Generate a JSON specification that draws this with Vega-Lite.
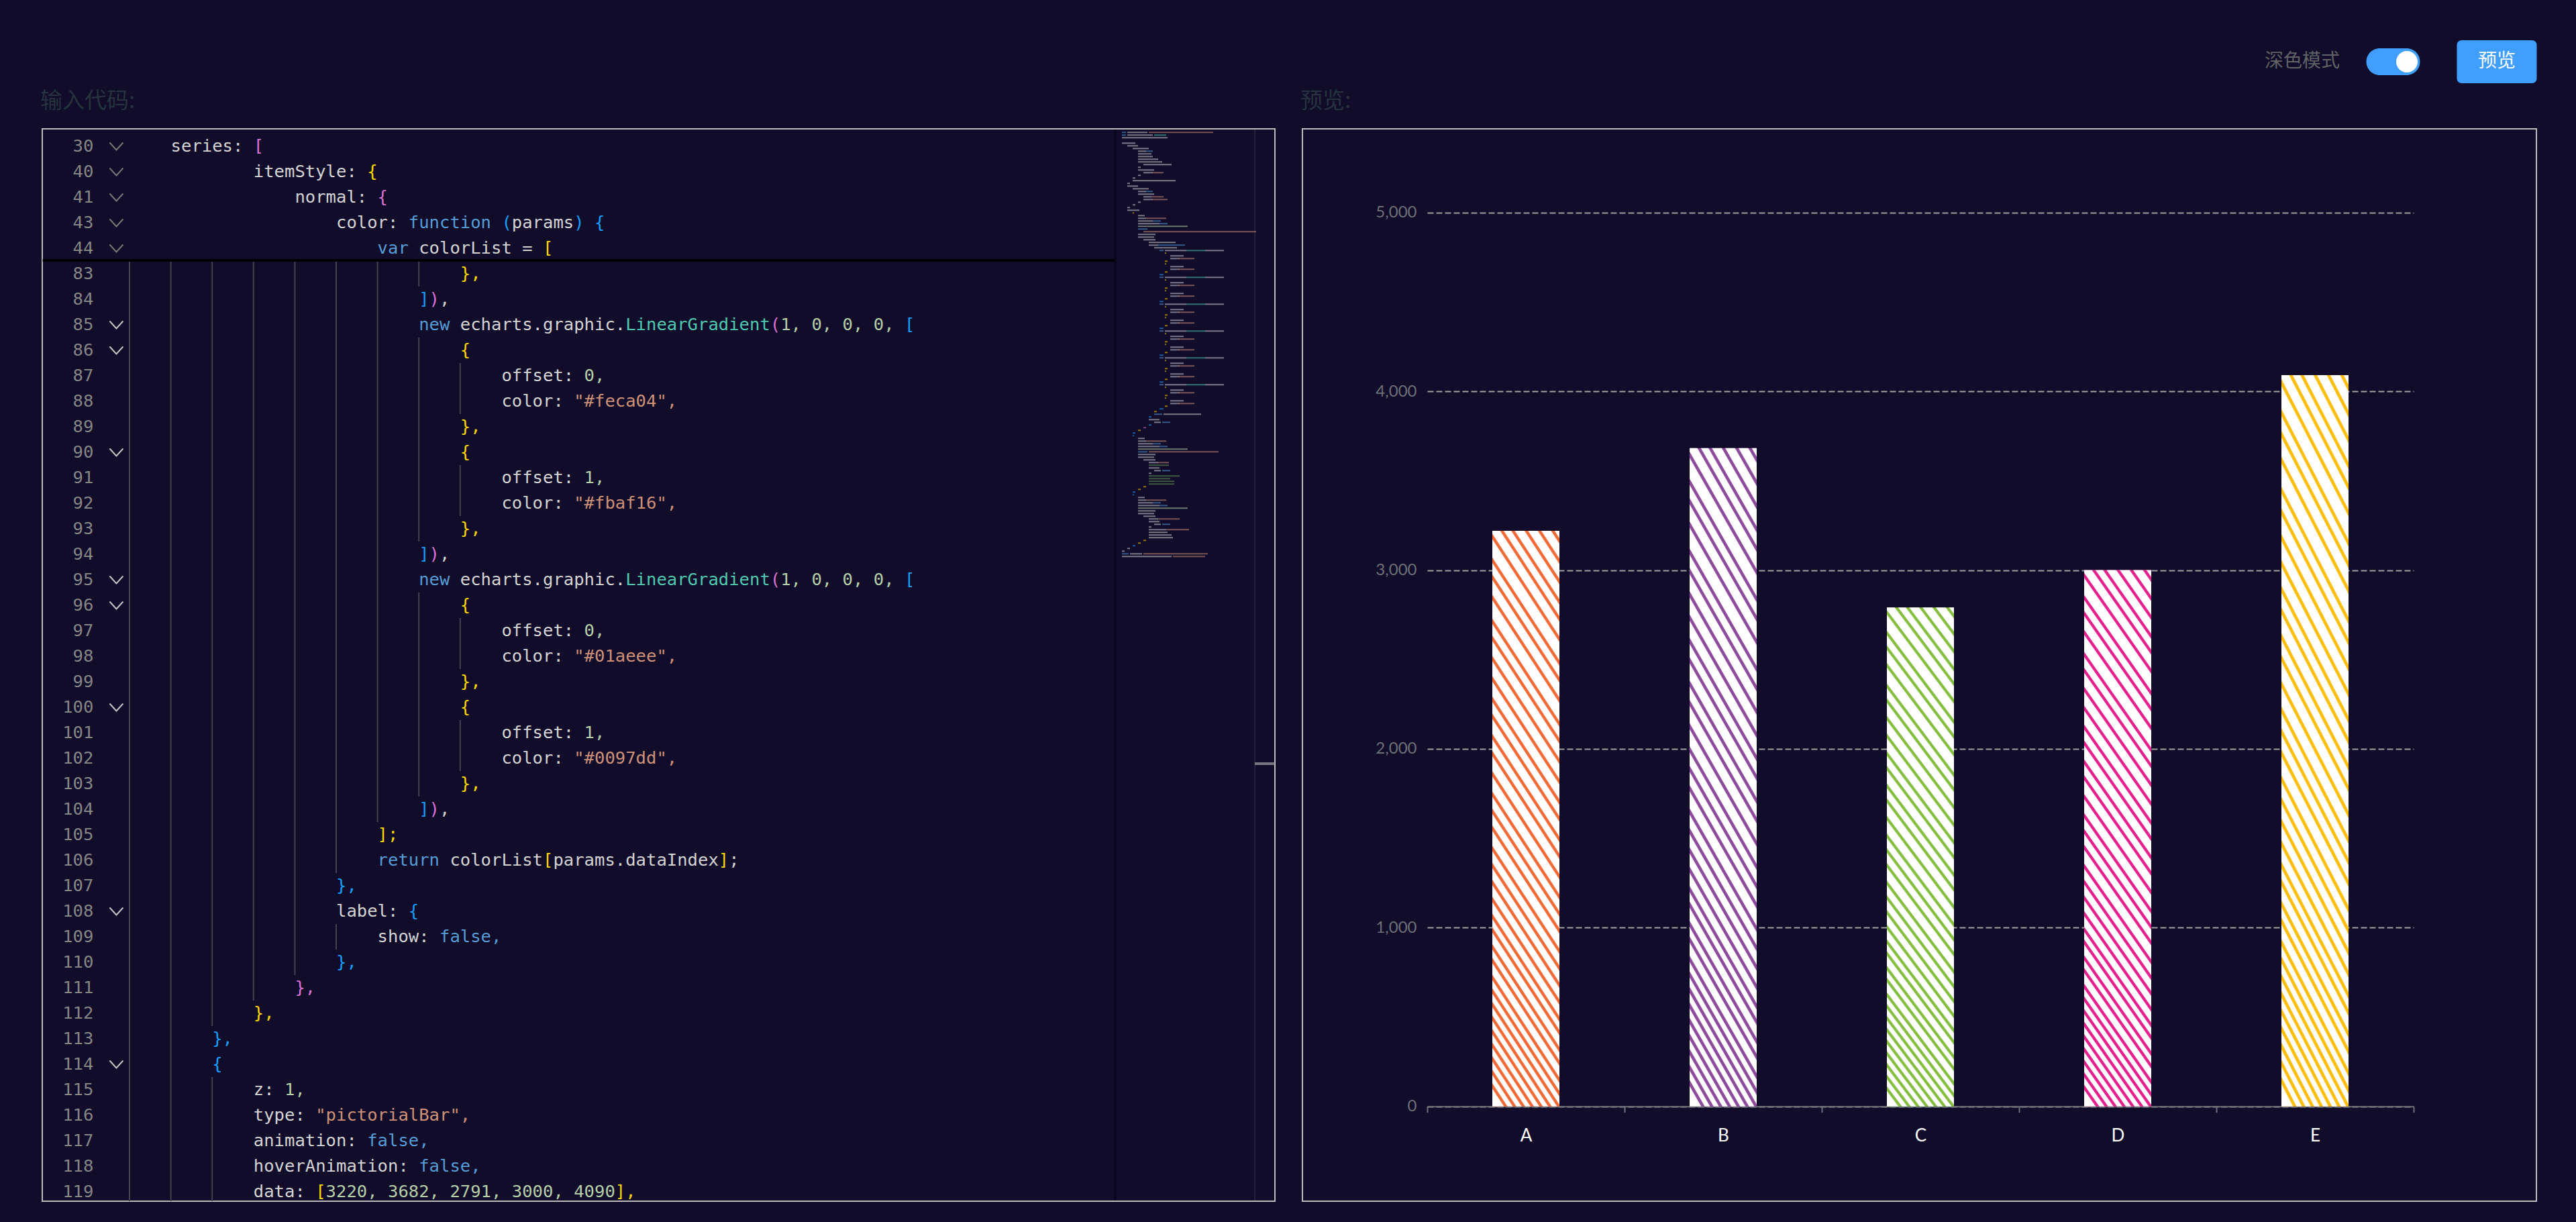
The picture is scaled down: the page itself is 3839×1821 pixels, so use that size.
{"$schema":"https://vega.github.io/schema/vega-lite/v6.json","background":"#100c2a","padding":{"left":59,"top":60,"right":62,"bottom":29},"config":{"view":{"stroke":null}},
"datasets":{
"bars":[{"cat":"A","value":3220},{"cat":"B","value":3682},{"cat":"C","value":2791},{"cat":"D","value":3000},{"cat":"E","value":4090}],
"widgets":[{"w":"mode","label":"深色模式"},{"w":"toggle","label":""},{"w":"preview","label":"预览"}],
"lines":[{"line":30,"fold":true},{"line":40,"fold":true},{"line":41,"fold":true},{"line":43,"fold":true},{"line":44,"fold":true},{"line":83},{"line":84},{"line":85,"fold":true},{"line":86,"fold":true},{"line":87},{"line":88},{"line":89},{"line":90,"fold":true},{"line":91},{"line":92},{"line":93},{"line":94},{"line":95,"fold":true},{"line":96,"fold":true},{"line":97},{"line":98},{"line":99},{"line":100,"fold":true},{"line":101},{"line":102},{"line":103},{"line":104},{"line":105},{"line":106},{"line":107},{"line":108,"fold":true},{"line":109},{"line":110},{"line":111},{"line":112},{"line":113},{"line":114,"fold":true},{"line":115},{"line":116},{"line":117},{"line":118},{"line":119}],
"guides":[{"col":0,"line":83,"to":119},{"col":4,"line":83,"to":119},{"col":8,"line":83,"to":112},{"col":8,"line":115,"to":119},{"col":12,"line":83,"to":111},{"col":16,"line":83,"to":110},{"col":20,"line":83,"to":106},{"col":20,"line":109,"to":109},{"col":24,"line":83,"to":104},{"col":28,"line":83,"to":83},{"col":28,"line":86,"to":93},{"col":28,"line":96,"to":103},{"col":32,"line":87,"to":88},{"col":32,"line":91,"to":92},{"col":32,"line":97,"to":98},{"col":32,"line":101,"to":102}],
"code":[
{"line":30,"col":4,"t":"series:","k":"p"},{"line":30,"col":12,"t":"[","k":"m"},
{"line":40,"col":12,"t":"itemStyle:","k":"p"},{"line":40,"col":23,"t":"{","k":"y"},
{"line":41,"col":16,"t":"normal:","k":"p"},{"line":41,"col":24,"t":"{","k":"m"},
{"line":43,"col":20,"t":"color:","k":"p"},{"line":43,"col":27,"t":"function","k":"k"},{"line":43,"col":36,"t":"(","k":"b"},{"line":43,"col":37,"t":"params","k":"p"},{"line":43,"col":43,"t":")","k":"b"},{"line":43,"col":45,"t":"{","k":"b"},
{"line":44,"col":24,"t":"var","k":"k"},{"line":44,"col":28,"t":"colorList =","k":"p"},{"line":44,"col":40,"t":"[","k":"y"},
{"line":83,"col":32,"t":"},","k":"y"},
{"line":84,"col":28,"t":"]","k":"b"},{"line":84,"col":29,"t":")","k":"m"},{"line":84,"col":30,"t":",","k":"p"},
{"line":85,"col":28,"t":"new","k":"k"},{"line":85,"col":32,"t":"echarts.graphic.","k":"p"},{"line":85,"col":48,"t":"LinearGradient","k":"t"},{"line":85,"col":62,"t":"(","k":"m"},{"line":85,"col":63,"t":"1, 0, 0, 0,","k":"n"},{"line":85,"col":75,"t":"[","k":"b"},
{"line":86,"col":32,"t":"{","k":"y"},{"line":87,"col":36,"t":"offset:","k":"p"},{"line":87,"col":44,"t":"0,","k":"n"},{"line":88,"col":36,"t":"color:","k":"p"},{"line":88,"col":43,"t":"\"#feca04\",","k":"s"},{"line":89,"col":32,"t":"},","k":"y"},
{"line":90,"col":32,"t":"{","k":"y"},{"line":91,"col":36,"t":"offset:","k":"p"},{"line":91,"col":44,"t":"1,","k":"n"},{"line":92,"col":36,"t":"color:","k":"p"},{"line":92,"col":43,"t":"\"#fbaf16\",","k":"s"},{"line":93,"col":32,"t":"},","k":"y"},
{"line":94,"col":28,"t":"]","k":"b"},{"line":94,"col":29,"t":")","k":"m"},{"line":94,"col":30,"t":",","k":"p"},
{"line":95,"col":28,"t":"new","k":"k"},{"line":95,"col":32,"t":"echarts.graphic.","k":"p"},{"line":95,"col":48,"t":"LinearGradient","k":"t"},{"line":95,"col":62,"t":"(","k":"m"},{"line":95,"col":63,"t":"1, 0, 0, 0,","k":"n"},{"line":95,"col":75,"t":"[","k":"b"},
{"line":96,"col":32,"t":"{","k":"y"},{"line":97,"col":36,"t":"offset:","k":"p"},{"line":97,"col":44,"t":"0,","k":"n"},{"line":98,"col":36,"t":"color:","k":"p"},{"line":98,"col":43,"t":"\"#01aeee\",","k":"s"},{"line":99,"col":32,"t":"},","k":"y"},
{"line":100,"col":32,"t":"{","k":"y"},{"line":101,"col":36,"t":"offset:","k":"p"},{"line":101,"col":44,"t":"1,","k":"n"},{"line":102,"col":36,"t":"color:","k":"p"},{"line":102,"col":43,"t":"\"#0097dd\",","k":"s"},{"line":103,"col":32,"t":"},","k":"y"},
{"line":104,"col":28,"t":"]","k":"b"},{"line":104,"col":29,"t":")","k":"m"},{"line":104,"col":30,"t":",","k":"p"},
{"line":105,"col":24,"t":"];","k":"y"},
{"line":106,"col":24,"t":"return","k":"k"},{"line":106,"col":31,"t":"colorList","k":"p"},{"line":106,"col":40,"t":"[","k":"y"},{"line":106,"col":41,"t":"params.dataIndex","k":"p"},{"line":106,"col":57,"t":"]","k":"y"},{"line":106,"col":58,"t":";","k":"p"},
{"line":107,"col":20,"t":"},","k":"b"},{"line":108,"col":20,"t":"label:","k":"p"},{"line":108,"col":27,"t":"{","k":"b"},{"line":109,"col":24,"t":"show:","k":"p"},{"line":109,"col":30,"t":"false,","k":"k"},{"line":110,"col":20,"t":"},","k":"b"},{"line":111,"col":16,"t":"},","k":"m"},{"line":112,"col":12,"t":"},","k":"y"},{"line":113,"col":8,"t":"},","k":"b"},{"line":114,"col":8,"t":"{","k":"b"},
{"line":115,"col":12,"t":"z:","k":"p"},{"line":115,"col":15,"t":"1,","k":"n"},{"line":116,"col":12,"t":"type:","k":"p"},{"line":116,"col":18,"t":"\"pictorialBar\",","k":"s"},{"line":117,"col":12,"t":"animation:","k":"p"},{"line":117,"col":23,"t":"false,","k":"k"},{"line":118,"col":12,"t":"hoverAnimation:","k":"p"},{"line":118,"col":28,"t":"false,","k":"k"},{"line":119,"col":12,"t":"data:","k":"p"},{"line":119,"col":18,"t":"[","k":"y"},{"line":119,"col":19,"t":"3220, 3682, 2791, 3000, 4090","k":"n"},{"line":119,"col":47,"t":"],","k":"y"}
],
"mini":[
{"m":1,"a":0,"b":3,"k":"k"},{"m":1,"a":4,"b":19,"k":"p"},{"m":1,"a":20,"b":68,"k":"s"},{"m":2,"a":0,"b":3,"k":"k"},{"m":2,"a":4,"b":23,"k":"p"},{"m":2,"a":24,"b":33,"k":"t"},{"m":3,"a":0,"b":34,"k":"p"},{"m":5,"a":0,"b":10,"k":"p"},{"m":6,"a":4,"b":12,"k":"p"},{"m":7,"a":8,"b":20,"k":"p"},{"m":8,"a":12,"b":18,"k":"p"},{"m":8,"a":18,"b":23,"k":"k"},{"m":9,"a":12,"b":22,"k":"p"},{"m":10,"a":12,"b":23,"k":"p"},{"m":11,"a":12,"b":27,"k":"p"},{"m":12,"a":12,"b":30,"k":"p"},{"m":13,"a":16,"b":37,"k":"p"},{"m":14,"a":12,"b":14,"k":"p"},{"m":15,"a":12,"b":24,"k":"p"},{"m":16,"a":16,"b":23,"k":"p"},{"m":16,"a":23,"b":31,"k":"s"},{"m":17,"a":12,"b":14,"k":"p"},{"m":18,"a":8,"b":10,"k":"p"},{"m":19,"a":8,"b":40,"k":"p"},{"m":20,"a":4,"b":6,"k":"p"},{"m":21,"a":4,"b":12,"k":"p"},{"m":22,"a":8,"b":20,"k":"p"},{"m":23,"a":12,"b":18,"k":"p"},{"m":23,"a":18,"b":23,"k":"k"},{"m":24,"a":12,"b":24,"k":"p"},{"m":25,"a":16,"b":22,"k":"p"},{"m":25,"a":22,"b":31,"k":"s"},{"m":26,"a":16,"b":23,"k":"p"},{"m":26,"a":23,"b":34,"k":"s"},{"m":27,"a":12,"b":14,"k":"p"},{"m":28,"a":8,"b":10,"k":"p"},{"m":29,"a":4,"b":6,"k":"p"},{"m":30,"a":4,"b":13,"k":"p"},{"m":31,"a":8,"b":9,"k":"y"},{"m":32,"a":12,"b":17,"k":"p"},{"m":33,"a":12,"b":18,"k":"p"},{"m":33,"a":18,"b":33,"k":"s"},{"m":34,"a":12,"b":23,"k":"p"},{"m":34,"a":23,"b":29,"k":"k"},{"m":35,"a":12,"b":28,"k":"p"},{"m":35,"a":28,"b":34,"k":"k"},{"m":36,"a":12,"b":49,"k":"n"},{"m":37,"a":12,"b":19,"k":"k"},{"m":38,"a":16,"b":100,"k":"s"},{"m":39,"a":12,"b":25,"k":"p"},{"m":40,"a":12,"b":24,"k":"p"},{"m":41,"a":16,"b":25,"k":"p"},{"m":42,"a":20,"b":40,"k":"p"},{"m":43,"a":20,"b":27,"k":"p"},{"m":43,"a":27,"b":47,"k":"k"},{"m":44,"a":24,"b":41,"k":"p"},
{"m":45,"a":28,"b":31,"k":"k"},{"m":45,"a":32,"b":48,"k":"p"},{"m":45,"a":48,"b":62,"k":"t"},{"m":45,"a":62,"b":76,"k":"p"},{"m":46,"a":32,"b":33,"k":"y"},{"m":47,"a":36,"b":46,"k":"p"},{"m":48,"a":36,"b":43,"k":"p"},{"m":48,"a":43,"b":54,"k":"s"},{"m":49,"a":32,"b":34,"k":"y"},{"m":50,"a":32,"b":33,"k":"y"},{"m":51,"a":36,"b":46,"k":"p"},{"m":52,"a":36,"b":43,"k":"p"},{"m":52,"a":43,"b":54,"k":"s"},{"m":53,"a":32,"b":34,"k":"y"},{"m":54,"a":28,"b":31,"k":"b"},
{"m":55,"a":28,"b":31,"k":"k"},{"m":55,"a":32,"b":48,"k":"p"},{"m":55,"a":48,"b":62,"k":"t"},{"m":55,"a":62,"b":76,"k":"p"},{"m":56,"a":32,"b":33,"k":"y"},{"m":57,"a":36,"b":46,"k":"p"},{"m":58,"a":36,"b":43,"k":"p"},{"m":58,"a":43,"b":54,"k":"s"},{"m":59,"a":32,"b":34,"k":"y"},{"m":60,"a":32,"b":33,"k":"y"},{"m":61,"a":36,"b":46,"k":"p"},{"m":62,"a":36,"b":43,"k":"p"},{"m":62,"a":43,"b":54,"k":"s"},{"m":63,"a":32,"b":34,"k":"y"},{"m":64,"a":28,"b":31,"k":"b"},
{"m":65,"a":28,"b":31,"k":"k"},{"m":65,"a":32,"b":48,"k":"p"},{"m":65,"a":48,"b":62,"k":"t"},{"m":65,"a":62,"b":76,"k":"p"},{"m":66,"a":32,"b":33,"k":"y"},{"m":67,"a":36,"b":46,"k":"p"},{"m":68,"a":36,"b":43,"k":"p"},{"m":68,"a":43,"b":54,"k":"s"},{"m":69,"a":32,"b":34,"k":"y"},{"m":70,"a":32,"b":33,"k":"y"},{"m":71,"a":36,"b":46,"k":"p"},{"m":72,"a":36,"b":43,"k":"p"},{"m":72,"a":43,"b":54,"k":"s"},{"m":73,"a":32,"b":34,"k":"y"},{"m":74,"a":28,"b":31,"k":"b"},
{"m":75,"a":28,"b":31,"k":"k"},{"m":75,"a":32,"b":48,"k":"p"},{"m":75,"a":48,"b":62,"k":"t"},{"m":75,"a":62,"b":76,"k":"p"},{"m":76,"a":32,"b":33,"k":"y"},{"m":77,"a":36,"b":46,"k":"p"},{"m":78,"a":36,"b":43,"k":"p"},{"m":78,"a":43,"b":54,"k":"s"},{"m":79,"a":32,"b":34,"k":"y"},{"m":80,"a":32,"b":33,"k":"y"},{"m":81,"a":36,"b":46,"k":"p"},{"m":82,"a":36,"b":43,"k":"p"},{"m":82,"a":43,"b":54,"k":"s"},{"m":83,"a":32,"b":34,"k":"y"},{"m":84,"a":28,"b":31,"k":"b"},
{"m":85,"a":28,"b":31,"k":"k"},{"m":85,"a":32,"b":48,"k":"p"},{"m":85,"a":48,"b":62,"k":"t"},{"m":85,"a":62,"b":76,"k":"p"},{"m":86,"a":32,"b":33,"k":"y"},{"m":87,"a":36,"b":46,"k":"p"},{"m":88,"a":36,"b":43,"k":"p"},{"m":88,"a":43,"b":54,"k":"s"},{"m":89,"a":32,"b":34,"k":"y"},{"m":90,"a":32,"b":33,"k":"y"},{"m":91,"a":36,"b":46,"k":"p"},{"m":92,"a":36,"b":43,"k":"p"},{"m":92,"a":43,"b":54,"k":"s"},{"m":93,"a":32,"b":34,"k":"y"},{"m":94,"a":28,"b":31,"k":"b"},
{"m":95,"a":28,"b":31,"k":"k"},{"m":95,"a":32,"b":48,"k":"p"},{"m":95,"a":48,"b":62,"k":"t"},{"m":95,"a":62,"b":76,"k":"p"},{"m":96,"a":32,"b":33,"k":"y"},{"m":97,"a":36,"b":46,"k":"p"},{"m":98,"a":36,"b":43,"k":"p"},{"m":98,"a":43,"b":54,"k":"s"},{"m":99,"a":32,"b":34,"k":"y"},{"m":100,"a":32,"b":33,"k":"y"},{"m":101,"a":36,"b":46,"k":"p"},{"m":102,"a":36,"b":43,"k":"p"},{"m":102,"a":43,"b":54,"k":"s"},{"m":103,"a":32,"b":34,"k":"y"},{"m":104,"a":28,"b":31,"k":"b"},
{"m":105,"a":24,"b":26,"k":"y"},{"m":106,"a":24,"b":30,"k":"k"},{"m":106,"a":31,"b":59,"k":"p"},{"m":107,"a":20,"b":22,"k":"b"},{"m":108,"a":20,"b":28,"k":"p"},{"m":109,"a":24,"b":29,"k":"p"},{"m":109,"a":30,"b":36,"k":"k"},{"m":110,"a":20,"b":22,"k":"b"},{"m":111,"a":16,"b":18,"k":"m"},{"m":112,"a":12,"b":14,"k":"y"},{"m":113,"a":8,"b":10,"k":"b"},{"m":114,"a":8,"b":9,"k":"b"},{"m":115,"a":12,"b":17,"k":"p"},{"m":116,"a":12,"b":18,"k":"p"},{"m":116,"a":18,"b":33,"k":"s"},{"m":117,"a":12,"b":23,"k":"p"},{"m":117,"a":23,"b":29,"k":"k"},{"m":118,"a":12,"b":28,"k":"p"},{"m":118,"a":28,"b":34,"k":"k"},{"m":119,"a":12,"b":49,"k":"n"},{"m":120,"a":12,"b":19,"k":"k"},{"m":120,"a":20,"b":72,"k":"s"},{"m":121,"a":12,"b":25,"k":"p"},{"m":122,"a":12,"b":24,"k":"p"},{"m":123,"a":16,"b":25,"k":"p"},{"m":124,"a":20,"b":27,"k":"p"},{"m":124,"a":27,"b":35,"k":"s"},{"m":125,"a":20,"b":35,"k":"g"},{"m":126,"a":20,"b":28,"k":"p"},{"m":127,"a":24,"b":29,"k":"p"},{"m":127,"a":30,"b":36,"k":"k"},{"m":128,"a":20,"b":22,"k":"p"},{"m":129,"a":20,"b":43,"k":"g"},{"m":130,"a":20,"b":36,"k":"g"},{"m":131,"a":20,"b":39,"k":"g"},{"m":132,"a":20,"b":39,"k":"g"},{"m":133,"a":16,"b":18,"k":"y"},{"m":134,"a":12,"b":14,"k":"y"},{"m":135,"a":8,"b":10,"k":"b"},{"m":136,"a":8,"b":9,"k":"b"},{"m":137,"a":12,"b":17,"k":"p"},{"m":138,"a":12,"b":18,"k":"p"},{"m":138,"a":18,"b":33,"k":"s"},{"m":139,"a":12,"b":23,"k":"p"},{"m":139,"a":23,"b":29,"k":"k"},{"m":140,"a":12,"b":28,"k":"p"},{"m":140,"a":28,"b":34,"k":"k"},{"m":141,"a":12,"b":49,"k":"n"},{"m":142,"a":12,"b":25,"k":"p"},{"m":143,"a":12,"b":24,"k":"p"},{"m":144,"a":16,"b":25,"k":"p"},{"m":145,"a":20,"b":27,"k":"p"},{"m":145,"a":27,"b":43,"k":"s"},{"m":146,"a":20,"b":28,"k":"p"},{"m":147,"a":24,"b":29,"k":"p"},{"m":147,"a":30,"b":36,"k":"k"},{"m":148,"a":20,"b":22,"k":"p"},{"m":149,"a":20,"b":33,"k":"p"},{"m":149,"a":33,"b":50,"k":"s"},{"m":150,"a":20,"b":34,"k":"p"},{"m":151,"a":20,"b":37,"k":"p"},{"m":152,"a":20,"b":38,"k":"p"},{"m":153,"a":16,"b":18,"k":"y"},{"m":154,"a":12,"b":14,"k":"y"},{"m":155,"a":8,"b":10,"k":"b"},{"m":156,"a":4,"b":6,"k":"p"},{"m":157,"a":0,"b":2,"k":"p"},{"m":158,"a":0,"b":5,"k":"k"},{"m":158,"a":6,"b":15,"k":"p"},{"m":158,"a":16,"b":64,"k":"s"},{"m":159,"a":0,"b":37,"k":"p"},{"m":159,"a":38,"b":62,"k":"s"}
]},
"vconcat":[
{"width":3716,"height":64,"data":{"name":"widgets"},
"encoding":{"x":{"field":"w","type":"nominal","sort":null,"scale":{"type":"point","domain":["mode","toggle","preview"],"range":[3368,3658],"padding":0},"axis":null},"y":{"datum":"row","type":"nominal","scale":{"type":"point","padding":0.5},"axis":null}},
"layer":[
{"transform":[{"filter":"datum.w==='toggle'"}],"mark":{"type":"rect","width":80,"height":40,"cornerRadius":20,"fill":"#409eff","xOffset":-9.5}},
{"transform":[{"filter":"datum.w==='toggle'"}],"mark":{"type":"point","shape":"circle","size":1024,"filled":true,"fill":"#ffffff","opacity":1,"xOffset":11}},
{"transform":[{"filter":"datum.w==='preview'"}],"mark":{"type":"rect","width":119,"height":64,"cornerRadius":7,"fill":"#409eff"}},
{"transform":[{"filter":"datum.w==='mode'"}],"mark":{"type":"text","font":"Noto Sans CJK SC","fontSize":28,"color":"#606266","baseline":"middle","align":"center"},"encoding":{"text":{"field":"label"}}},
{"transform":[{"filter":"datum.w==='preview'"}],"mark":{"type":"text","font":"Noto Sans CJK SC","fontSize":28,"color":"#ffffff","baseline":"middle","align":"center"},"encoding":{"text":{"field":"label"}}}
]},
{"hconcat":[
{"width":1837,"height":1598,"view":{"stroke":"#bdbbbb","strokeWidth":2},
"title":{"text":"输入代码:","anchor":"start","frame":"group","font":"Noto Sans CJK SC","fontSize":33,"fontWeight":"normal","color":"#27323f","offset":24,"dx":-3},
"layer":[
{"layer":[
{"data":{"name":"guides"},"mark":{"type":"rule","stroke":"#44424f","strokeWidth":2,"yOffset":-19,"y2Offset":19,"clip":true},"encoding":{"x":{"field":"col","type":"quantitative","scale":{"domain":[0,100],"range":[130,1670]},"axis":null},"y":{"field":"line","type":"ordinal","scale":{"type":"point","domain":[30,40,41,43,44,83,84,85,86,87,88,89,90,91,92,93,94,95,96,97,98,99,100,101,102,103,104,105,106,107,108,109,110,111,112,113,114,115,116,117,118,119],"range":[26,1584],"padding":0},"axis":null},"y2":{"field":"to"}}},
{"data":{"name":"lines"},"mark":{"type":"text","font":"DejaVu Sans Mono","fontSize":25.58,"align":"right","baseline":"middle","color":"#858585"},"encoding":{"x":{"datum":-3.48,"type":"quantitative","axis":null},"y":{"field":"line","type":"ordinal","axis":null},"text":{"field":"line","type":"nominal"}}},
{"data":{"name":"lines"},"transform":[{"filter":"datum.fold===true"}],"mark":{"type":"point","shape":"M-1,-0.55L0,0.55L1,-0.55","size":400,"filled":false,"strokeWidth":2,"opacity":1},"encoding":{"x":{"datum":-1.27,"type":"quantitative","axis":null},"y":{"field":"line","type":"ordinal","axis":null},"stroke":{"condition":{"test":"datum.line<=44","value":"#777777"},"value":"#c5c5c5"}}},
{"data":{"name":"code"},"mark":{"type":"text","font":"DejaVu Sans Mono","fontSize":25.58,"align":"left","baseline":"middle"},"encoding":{"x":{"field":"col","type":"quantitative","axis":null},"y":{"field":"line","type":"ordinal","axis":null},"text":{"field":"t"},"color":{"field":"k","type":"nominal","scale":{"domain":["p","k","s","n","t","g","y","m","b"],"range":["#d4d4d4","#569cd6","#ce9178","#b5cea8","#4ec9b0","#6a9955","#ffd700","#da70d6","#179fff"]},"legend":null}}},
{"data":{"values":[{}]},"mark":{"type":"rule","stroke":"#000000","strokeWidth":4,"yOffset":18},"encoding":{"x":{"datum":-8.4,"type":"quantitative","axis":null},"x2":{"datum":95.4},"y":{"datum":44,"type":"ordinal","axis":null}}},
{"data":{"values":[{}]},"mark":{"type":"rule","stroke":"#07051a","strokeWidth":3,"yOffset":-25,"y2Offset":13},"encoding":{"x":{"datum":95.4,"type":"quantitative","axis":null},"y":{"datum":30,"type":"ordinal","axis":null},"y2":{"datum":119}}},
{"data":{"values":[{}]},"mark":{"type":"rule","stroke":"#2b2944","strokeWidth":1.5,"yOffset":-25,"y2Offset":13},"encoding":{"x":{"datum":108.9,"type":"quantitative","axis":null},"y":{"datum":30,"type":"ordinal","axis":null},"y2":{"datum":119}}},
{"data":{"values":[{}]},"mark":{"type":"rule","stroke":"#77757f","strokeWidth":4,"yOffset":8},"encoding":{"x":{"datum":108.9,"type":"quantitative","axis":null},"x2":{"datum":110.8},"y":{"datum":102,"type":"ordinal","axis":null}}}
]},
{"data":{"name":"mini"},"mark":{"type":"rule","strokeWidth":2,"opacity":0.55},"encoding":{"x":{"field":"a","type":"quantitative","scale":{"domain":[0,100],"range":[1609,1809]},"axis":null},"x2":{"field":"b"},"y":{"field":"m","type":"quantitative","scale":{"domain":[1,159],"range":[5.3,637.3]},"axis":null},"color":{"field":"k","type":"nominal","legend":null}}}
],
"resolve":{"scale":{"x":"independent","y":"independent"}}},
{"width":1839,"height":1598,"view":{"stroke":"#bdbbbb","strokeWidth":2},
"title":{"text":"预览:","anchor":"start","frame":"group","font":"Noto Sans CJK SC","fontSize":33,"fontWeight":"normal","color":"#27323f","offset":24,"dx":-3},
"data":{"name":"bars"},
"encoding":{
"x":{"field":"cat","type":"nominal","scale":{"type":"band","range":[186,1656],"paddingInner":0,"paddingOuter":0},"axis":{"title":null,"labelAngle":0,"offset":-141.3,"domainColor":"#6e7079","domainWidth":2,"tickColor":"#6e7079","tickWidth":2,"tickSize":9,"tickBand":"extent","labelColor":"#ffffff","labelFont":"Lato","labelFontSize":26,"labelPadding":22,"grid":false}},
"y":{"field":"value","type":"quantitative","scale":{"domain":[0,5000],"range":[1456.7,124.7],"nice":false},"axis":{"title":null,"offset":-186,"values":[0,1000,2000,3000,4000,5000],"format":",.0f","domain":false,"ticks":false,"labelColor":"#6e7079","labelFont":"Lato","labelFontSize":24,"labelPadding":16,"grid":true,"gridColor":"#a0a0a0","gridWidth":2,"gridDash":[9,4]}}},
"layer":[
{"mark":{"type":"bar","size":100},"encoding":{"fill":{"field":"cat","type":"nominal","scale":{"domain":["A","B","C","D","E"],"range":["#f26a35","#8e4a9c","#85bf3f","#e6208f","#fdbe0e"]},"legend":null}}},
{"mark":{"type":"bar","size":100,"fill":{"gradient":"linear","x1":1,"y1":0,"x2":0.796,"y2":1.142,"stops":[{"offset":0.01,"color":"#fff"},{"offset":0.012,"color":"#fff0"},{"offset":0.018,"color":"#fff0"},{"offset":0.02,"color":"#fff"},{"offset":0.04,"color":"#fff"},{"offset":0.042,"color":"#fff0"},{"offset":0.048,"color":"#fff0"},{"offset":0.05,"color":"#fff"},{"offset":0.07,"color":"#fff"},{"offset":0.072,"color":"#fff0"},{"offset":0.078,"color":"#fff0"},{"offset":0.08,"color":"#fff"},{"offset":0.1,"color":"#fff"},{"offset":0.102,"color":"#fff0"},{"offset":0.108,"color":"#fff0"},{"offset":0.11,"color":"#fff"},{"offset":0.125,"color":"#fff"},{"offset":0.127,"color":"#fff0"},{"offset":0.133,"color":"#fff0"},{"offset":0.135,"color":"#fff"},{"offset":0.155,"color":"#fff"},{"offset":0.157,"color":"#fff0"},{"offset":0.163,"color":"#fff0"},{"offset":0.165,"color":"#fff"},{"offset":0.19,"color":"#fff"},{"offset":0.192,"color":"#fff0"},{"offset":0.198,"color":"#fff0"},{"offset":0.2,"color":"#fff"},{"offset":0.215,"color":"#fff"},{"offset":0.217,"color":"#fff0"},{"offset":0.223,"color":"#fff0"},{"offset":0.225,"color":"#fff"},{"offset":0.245,"color":"#fff"},{"offset":0.247,"color":"#fff0"},{"offset":0.253,"color":"#fff0"},{"offset":0.255,"color":"#fff"},{"offset":0.28,"color":"#fff"},{"offset":0.282,"color":"#fff0"},{"offset":0.288,"color":"#fff0"},{"offset":0.29,"color":"#fff"},{"offset":0.305,"color":"#fff"},{"offset":0.307,"color":"#fff0"},{"offset":0.313,"color":"#fff0"},{"offset":0.315,"color":"#fff"},{"offset":0.335,"color":"#fff"},{"offset":0.337,"color":"#fff0"},{"offset":0.343,"color":"#fff0"},{"offset":0.345,"color":"#fff"},{"offset":0.365,"color":"#fff"},{"offset":0.367,"color":"#fff0"},{"offset":0.373,"color":"#fff0"},{"offset":0.375,"color":"#fff"},{"offset":0.395,"color":"#fff"},{"offset":0.397,"color":"#fff0"},{"offset":0.403,"color":"#fff0"},{"offset":0.405,"color":"#fff"},{"offset":0.42,"color":"#fff"},{"offset":0.422,"color":"#fff0"},{"offset":0.428,"color":"#fff0"},{"offset":0.43,"color":"#fff"},{"offset":0.45,"color":"#fff"},{"offset":0.452,"color":"#fff0"},{"offset":0.458,"color":"#fff0"},{"offset":0.46,"color":"#fff"},{"offset":0.475,"color":"#fff"},{"offset":0.477,"color":"#fff0"},{"offset":0.483,"color":"#fff0"},{"offset":0.485,"color":"#fff"},{"offset":0.505,"color":"#fff"},{"offset":0.507,"color":"#fff0"},{"offset":0.513,"color":"#fff0"},{"offset":0.515,"color":"#fff"},{"offset":0.535,"color":"#fff"},{"offset":0.537,"color":"#fff0"},{"offset":0.543,"color":"#fff0"},{"offset":0.545,"color":"#fff"},{"offset":0.56,"color":"#fff"},{"offset":0.562,"color":"#fff0"},{"offset":0.568,"color":"#fff0"},{"offset":0.57,"color":"#fff"},{"offset":0.585,"color":"#fff"},{"offset":0.587,"color":"#fff0"},{"offset":0.593,"color":"#fff0"},{"offset":0.595,"color":"#fff"},{"offset":0.615,"color":"#fff"},{"offset":0.617,"color":"#fff0"},{"offset":0.623,"color":"#fff0"},{"offset":0.625,"color":"#fff"},{"offset":0.64,"color":"#fff"},{"offset":0.642,"color":"#fff0"},{"offset":0.648,"color":"#fff0"},{"offset":0.65,"color":"#fff"},{"offset":0.665,"color":"#fff"},{"offset":0.667,"color":"#fff0"},{"offset":0.673,"color":"#fff0"},{"offset":0.675,"color":"#fff"},{"offset":0.69,"color":"#fff"},{"offset":0.692,"color":"#fff0"},{"offset":0.698,"color":"#fff0"},{"offset":0.7,"color":"#fff"},{"offset":0.715,"color":"#fff"},{"offset":0.717,"color":"#fff0"},{"offset":0.723,"color":"#fff0"},{"offset":0.725,"color":"#fff"},{"offset":0.735,"color":"#fff"},{"offset":0.737,"color":"#fff0"},{"offset":0.743,"color":"#fff0"},{"offset":0.745,"color":"#fff"},{"offset":0.76,"color":"#fff"},{"offset":0.762,"color":"#fff0"},{"offset":0.768,"color":"#fff0"},{"offset":0.77,"color":"#fff"},{"offset":0.78,"color":"#fff"},{"offset":0.782,"color":"#fff0"},{"offset":0.788,"color":"#fff0"},{"offset":0.79,"color":"#fff"},{"offset":0.805,"color":"#fff"},{"offset":0.807,"color":"#fff0"},{"offset":0.813,"color":"#fff0"},{"offset":0.815,"color":"#fff"},{"offset":0.825,"color":"#fff"},{"offset":0.827,"color":"#fff0"},{"offset":0.833,"color":"#fff0"},{"offset":0.835,"color":"#fff"},{"offset":0.845,"color":"#fff"},{"offset":0.847,"color":"#fff0"},{"offset":0.853,"color":"#fff0"},{"offset":0.855,"color":"#fff"},{"offset":0.865,"color":"#fff"},{"offset":0.867,"color":"#fff0"},{"offset":0.873,"color":"#fff0"},{"offset":0.875,"color":"#fff"},{"offset":0.885,"color":"#fff"},{"offset":0.887,"color":"#fff0"},{"offset":0.893,"color":"#fff0"},{"offset":0.895,"color":"#fff"},{"offset":0.905,"color":"#fff"},{"offset":0.907,"color":"#fff0"},{"offset":0.913,"color":"#fff0"},{"offset":0.915,"color":"#fff"},{"offset":0.925,"color":"#fff"},{"offset":0.927,"color":"#fff0"},{"offset":0.933,"color":"#fff0"},{"offset":0.935,"color":"#fff"},{"offset":0.945,"color":"#fff"},{"offset":0.947,"color":"#fff0"},{"offset":0.953,"color":"#fff0"},{"offset":0.955,"color":"#fff"},{"offset":0.965,"color":"#fff"},{"offset":0.967,"color":"#fff0"},{"offset":0.973,"color":"#fff0"},{"offset":0.975,"color":"#fff"}]}}}
]}
],"spacing":34}
],"spacing":9}
